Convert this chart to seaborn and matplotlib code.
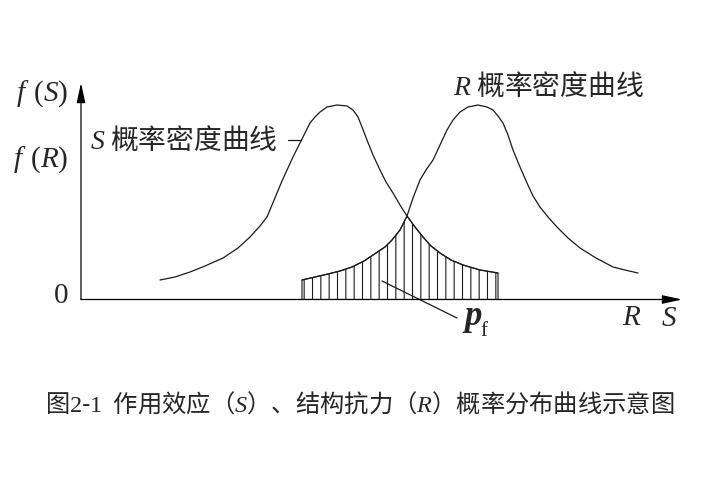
import numpy as np
import matplotlib
matplotlib.use("Agg")
import matplotlib.pyplot as plt
import seaborn as sns

# curve points (x along the S/R axis, y = density, arbitrary units)
s_x = [7.9, 9.4, 10.9, 12.4, 14.2, 15.7, 16.9, 17.9, 18.6, 19.1, 19.6, 20.1, 20.6,
       21.2, 21.9, 22.4, 22.9, 23.4, 23.9, 24.6, 25.6, 26.6, 27.2, 27.7, 28.1, 28.6,
       29.2, 29.9, 30.5, 31.2, 31.9, 32.6, 33.4, 34.2, 35.0, 35.9, 37.0, 38.2, 39.9, 41.7]
s_y = [1.95, 2.25, 2.75, 3.35, 4.15, 5.15, 6.25, 7.35, 8.25, 9.45, 10.65, 11.85, 12.95,
       14.25, 15.65, 16.65, 17.65, 18.25, 18.75, 19.25, 19.45, 19.35, 18.95, 18.25, 17.25, 15.95,
       14.45, 12.95, 11.75, 10.65, 9.45, 8.35, 7.25, 6.25, 5.35, 4.65, 3.95, 3.45, 2.95, 2.65]

r_x = [22.1, 23.4, 24.7, 25.9, 27.1, 28.3, 29.5, 30.4, 31.1, 31.9, 32.6, 33.2, 33.9,
       34.5, 35.2, 35.9, 36.6, 37.2, 37.9, 38.7, 39.7, 40.6, 41.2, 41.7, 42.2, 42.7,
       43.2, 43.9, 44.6, 45.2, 45.9, 46.7, 47.6, 48.7, 49.9, 51.5, 53.2, 54.4, 55.7]
r_y = [1.95, 2.25, 2.55, 2.85, 3.25, 3.85, 4.65, 5.25, 5.95, 6.95, 8.35, 10.15, 11.95,
       12.95, 13.95, 15.45, 16.95, 17.95, 18.75, 19.25, 19.45, 19.25, 18.95, 18.35, 17.65, 16.45,
       14.95, 13.25, 11.65, 10.35, 9.25, 8.25, 7.25, 6.15, 5.15, 4.15, 3.25, 2.95, 2.65]

cross_x = 32.6  # where the two curves meet

ylabels = ['$f\\;\\,(S)$', '$f\\;\\,(R)$', '0']
ylabel_pos = [20.55, 13.95, 0.35]
caption = '图$\\mathrm{2}$-$\\mathrm{1}$  作用效应（$S$）、结构抗力（$R$）概率分布曲线示意图'

sns.set_theme(style='white')
plt.rcParams['mathtext.fontset'] = 'custom'
plt.rcParams['mathtext.rm'] = 'Liberation Serif'
plt.rcParams['mathtext.it'] = 'Liberation Serif:italic'
plt.rcParams['mathtext.bf'] = 'Liberation Serif:bold'
plt.rcParams['font.family'] = ['Liberation Serif', 'Noto Sans CJK SC']
plt.rcParams['hatch.linewidth'] = 0.8
plt.rcParams['hatch.color'] = 'black'

fig = plt.figure(figsize=(7.18, 5.03), dpi=100)
ax = fig.add_axes([81 / 718, 203.5 / 503, 601 / 718, 216.5 / 503])
ax.set_xlim(0, 60.1)
ax.set_ylim(0, 21.65)
ax.axis('off')

# the two density curves
line_kw = dict(ax=ax, color='#1a1a1a', lw=0.9, clip_on=False, solid_joinstyle='round')
sns.lineplot(x=s_x, y=s_y, **line_kw)
sns.lineplot(x=r_x, y=r_y, **line_kw)

# failure region p_f: under R left of the crossing, under S right of it
hx = [x for x in r_x if x <= cross_x] + [x for x in s_x if x > cross_x]
hy = [y for x, y in zip(r_x, r_y) if x <= cross_x] + [y for x, y in zip(s_x, s_y) if x > cross_x]
poly_x = [hx[0]] + hx + [hx[-1]]
poly_y = [0] + hy + [0]
ax.fill(poly_x, poly_y, facecolor='none', edgecolor='#1a1a1a', hatch='||', lw=0.8)

# axes with arrows
arrow = dict(arrowstyle='-|>,head_length=1.0,head_width=0.22', color='black', lw=0.9,
             shrinkA=0, shrinkB=0)
ax.annotate('', xy=(60.1, 0), xytext=(0, 0), arrowprops=arrow, annotation_clip=False)
ax.annotate('', xy=(0, 21.65), xytext=(0, 0), arrowprops=arrow, annotation_clip=False)

for lab, y in zip(ylabels, ylabel_pos):
    ax.text(-1.3, y, lab, fontsize=21, ha='right', va='center')

ax.text(55.1, -1.85, '$R$', fontsize=21, ha='center', va='center')
ax.text(58.8, -1.95, '$S$', fontsize=21, ha='center', va='center')

# curve labels and leader lines
ax.text(0.9, 15.9, '$S$ 概率密度曲线', fontsize=20, ha='left', va='center',
        family='Noto Sans CJK SC')
ax.plot([20.7, 22.0], [15.95, 15.95], color='#1a1a1a', lw=0.9)
ax.text(37.2, 21.25, '$R$ 概率密度曲线', fontsize=20, ha='left', va='center',
        family='Noto Sans CJK SC')

ax.plot([30.1, 37.6], [1.85, -1.85], color='#1a1a1a', lw=0.9, clip_on=False)
ax.text(38.3, -2.55, 'p', fontsize=25, style='italic', weight='bold',
        ha='left', va='baseline')
ax.text(39.9, -3.6, 'f', fontsize=15, ha='left', va='baseline')

fig.text(0.501, 0.197, caption, fontsize=17.5, ha='center', va='center',
         family='Noto Sans CJK SC')

fig.savefig('out.png', dpi=100)
